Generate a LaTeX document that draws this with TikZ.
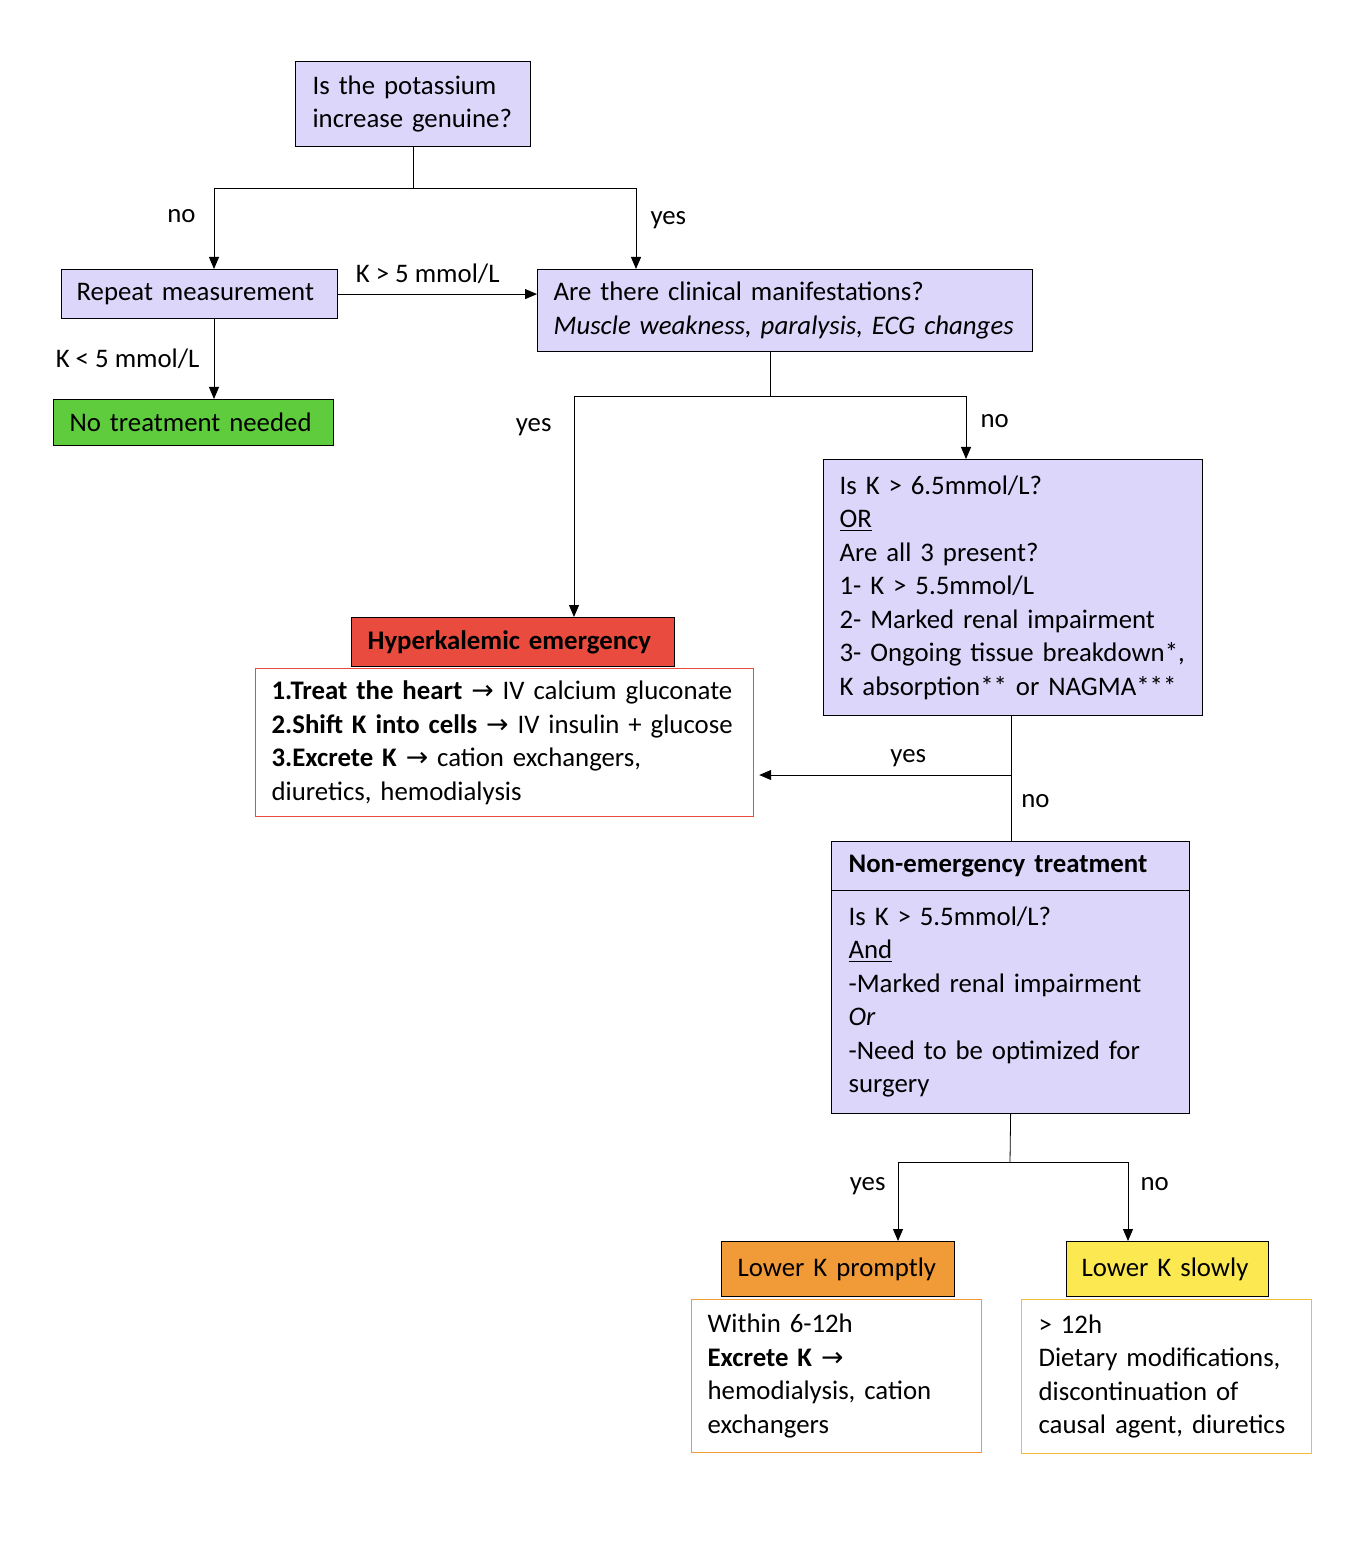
\documentclass[tikz,border=0pt]{standalone}
\usepackage{fontspec}
\setmainfont{Carlito}
\newfontfamily\arrowfont{DejaVu Sans}
\usepackage{tikz}
\usetikzlibrary{shapes,arrows.meta,positioning,calc}

\definecolor{lavender}{RGB}{220,214,250}
\definecolor{okgreen}{RGB}{95,204,62}
\definecolor{alarmred}{RGB}{233,76,62}
\definecolor{promptorange}{RGB}{240,154,56}
\definecolor{slowyellow}{RGB}{252,232,80}
\definecolor{slowborder}{RGB}{242,188,52}

\newcommand{\goes}{{\arrowfont →}}

\tikzset{
    box/.style={draw, anchor=north west, align=left, inner xsep=8.5pt, inner ysep=0pt,
        line width=0.6pt, font=\fontsize{13.4}{16.75}\selectfont},
    qbox/.style={box, fill=lavender},
    arr/.style={-{Triangle[length=6pt,width=5pt]}, line width=0.5pt},
    lbl/.style={font=\fontsize{13.4}{16.75}\selectfont, inner sep=1pt},
}

\begin{document}
\begin{tikzpicture}[x=0.5pt, y=-0.5pt]
        \useasboundingbox (0,0) rectangle (1350,1566);

        % Question boxes
        \node[qbox, text width=100.5pt, minimum height=42.5pt] (GENUINE) at (295,61)
            {Is the potassium\\increase genuine?};
        \node[qbox, inner xsep=7.5pt, text width=123pt, minimum height=24.5pt] (REPEAT) at (61,269)
            {Repeat measurement};
        \node[qbox, inner xsep=8pt, text width=231.5pt, minimum height=41pt] (CLINICAL) at (537,269)
            {Are there clinical manifestations?\\\textit{Muscle weakness, paralysis, ECG changes}};
        \node[box, fill=okgreen, inner xsep=8pt, text width=124pt, minimum height=23pt] (NOTREAT) at (53,399)
            {No treatment needed};

        % Emergency branch
        \node[box, fill=alarmred, inner xsep=8pt, text width=145.5pt, minimum height=24.5pt] (EMERG) at (351,617)
            {\textbf{Hyperkalemic emergency}};
        \node[box, draw=alarmred, fill=white, inner xsep=8pt, text width=233pt, minimum height=74pt] (EMERGTX) at (255,668)
            {\textbf{1.Treat the heart} \goes{} IV calcium gluconate\\
             \textbf{2.Shift K into cells} \goes{} IV insulin + glucose\\
             \textbf{3.Excrete K} \goes{} cation exchangers,\\
             diuretics, hemodialysis};

        % Severity check
        \node[qbox, inner xsep=8pt, text width=173.5pt, minimum height=128pt] (K65) at (823,459)
            {Is K > 6.5mmol/L?\\
             \underline{OR}\\
             Are all 3 present?\\
             1- K > 5.5mmol/L\\
             2- Marked renal impairment\\
             3- Ongoing tissue breakdown*,\\
             K absorption** or NAGMA***};

        % Non-emergency branch
        \node[qbox, text width=162pt, minimum height=24.5pt] (NONEMHEAD) at (831,841)
            {\textbf{Non-emergency treatment}};
        \node[qbox, text width=162pt, minimum height=111.5pt] (NONEMBODY) at (831,890)
            {Is K > 5.5mmol/L?\\
             \underline{And}\\
             -Marked renal impairment\\
             \textit{Or}\\
             -Need to be optimized for\\
             surgery};

        \node[box, fill=promptorange, inner xsep=8pt, text width=100.5pt, minimum height=27.5pt] (PROMPT) at (721,1241)
            {Lower K promptly};
        \node[box, draw=promptorange, inner xsep=8pt, text width=129pt, minimum height=76.5pt] (PROMPTTX) at (691,1299)
            {Within 6-12h\\
             \textbf{Excrete K} \goes\\
             hemodialysis, cation\\
             exchangers};
        \node[box, fill=slowyellow, inner xsep=7.5pt, text width=86pt, minimum height=27.5pt] (SLOW) at (1066,1241)
            {Lower K slowly};
        \node[box, draw=slowborder, text width=128pt, minimum height=77pt] (SLOWTX) at (1021,1299)
            {> 12h\\
             Dietary modifications,\\
             discontinuation of\\
             causal agent, diuretics};

        % Split below first question
        \path (GENUINE.south) ++(0,42) coordinate (SPLIT1);
        \coordinate (SPLIT1_L) at (214,188);
        \coordinate (SPLIT1_R) at (636,188);
        \draw (GENUINE.south) -- (SPLIT1);
        \draw (SPLIT1_L) -- (SPLIT1_R);
        \draw[arr] (SPLIT1_L) -- (SPLIT1_L |- REPEAT.north) node[lbl, pos=.35, left=8pt] {no};
        \draw[arr] (SPLIT1_R) -- (SPLIT1_R |- CLINICAL.north) node[lbl, pos=.4, right=6pt] {yes};

        % Repeat measurement outcomes
        \draw[arr] (REPEAT.east) -- (REPEAT.east -| CLINICAL.west) node[lbl, pos=.45, above=4pt] {K > 5 mmol/L};
        \draw[arr] (SPLIT1_L |- REPEAT.south) -- (SPLIT1_L |- NOTREAT.north) node[lbl, midway, left=6pt] {K < 5 mmol/L};

        % Split below clinical manifestations
        \coordinate (SPLIT2) at (770,396);
        \coordinate (SPLIT2_L) at (574,396);
        \coordinate (SPLIT2_R) at (966,396);
        \draw (SPLIT2 |- CLINICAL.south) -- (SPLIT2);
        \draw (SPLIT2_L) -- (SPLIT2_R);
        \draw[arr] (SPLIT2_L) -- (SPLIT2_L |- EMERG.north) node[lbl, pos=.14, left=10pt] {yes};
        \draw[arr] (SPLIT2_R) -- (SPLIT2_R |- K65.north) node[lbl, pos=.4, right=6pt] {no};

        % Split below severity check
        \coordinate (SPLIT3) at (1011,775);
        \draw (SPLIT3 |- K65.south) -- (SPLIT3 |- NONEMHEAD.north);
        \draw[arr, shorten >=2.5pt] (SPLIT3) -- (SPLIT3 -| EMERGTX.east) node[lbl, pos=.4, above=3pt] {yes};
        \path (SPLIT3) -- (SPLIT3 |- NONEMHEAD.north) node[lbl, pos=.4, right=4pt] {no};

        % Split below non-emergency treatment
        \coordinate (SPLIT4) at (1010,1162);
        \coordinate (SPLIT4_L) at (898,1162);
        \coordinate (SPLIT4_R) at (1128,1162);
        \draw (NONEMBODY.south) -- (SPLIT4);
        \draw (SPLIT4_L) -- (SPLIT4_R);
        \draw[arr] (SPLIT4_L) -- (SPLIT4_L |- PROMPT.north) node[lbl, pos=.3, left=5pt] {yes};
        \draw[arr] (SPLIT4_R) -- (SPLIT4_R |- SLOW.north) node[lbl, pos=.28, right=5pt] {no};

    \end{tikzpicture}
\end{document}
